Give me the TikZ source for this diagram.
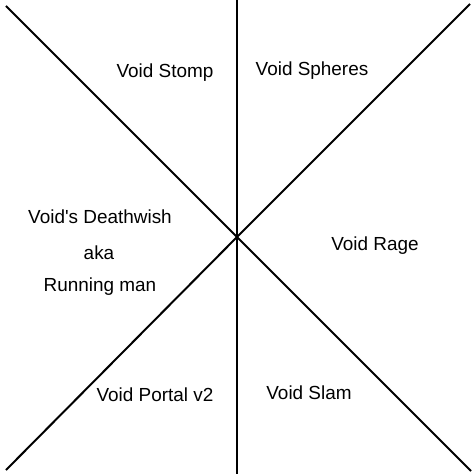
\documentclass[tikz,border=0pt]{standalone}
\usepackage{fontspec}
\setmainfont{Liberation Sans}
\begin{document}
\begin{tikzpicture}[x=1bp,y=-1bp,
  divider/.style={line width=2bp,black},
  label/.style={font=\fontsize{19}{22}\selectfont,inner sep=0pt,anchor=center}]
\useasboundingbox[fill=white] (0,0) rectangle (474,474);
\coordinate (c) at (237,237);
\coordinate (tl) at (6,6);
\coordinate (tr) at (470,4);
\coordinate (bl) at (6,470);
\coordinate (br) at (471,471);
\coordinate (t) at (237,0);
\coordinate (b) at (237,474);
\draw[divider] (t) -- (b);
\draw[divider] (tl) -- (c);
\draw[divider] (tr) -- (c);
\draw[divider] (bl) -- (c);
\draw[divider] (br) -- (c);
\node[label] (stomp) at (165,73) {Void Stomp};
\node[label] (spheres) at (312,71) {Void Spheres};
\node[label] (rage) at (375,246) {Void Rage};
\node[label] (portal) at (155,395) {Void Portal v2};
\node[label] (slam) at (309,393) {Void Slam};
\node[label] (death) at (100,217) {Void\textquotesingle s Deathwish};
\node[label] (aka) at (99,253) {aka};
\node[label] (run) at (100,287) {Running man};
\end{tikzpicture}
\end{document}
